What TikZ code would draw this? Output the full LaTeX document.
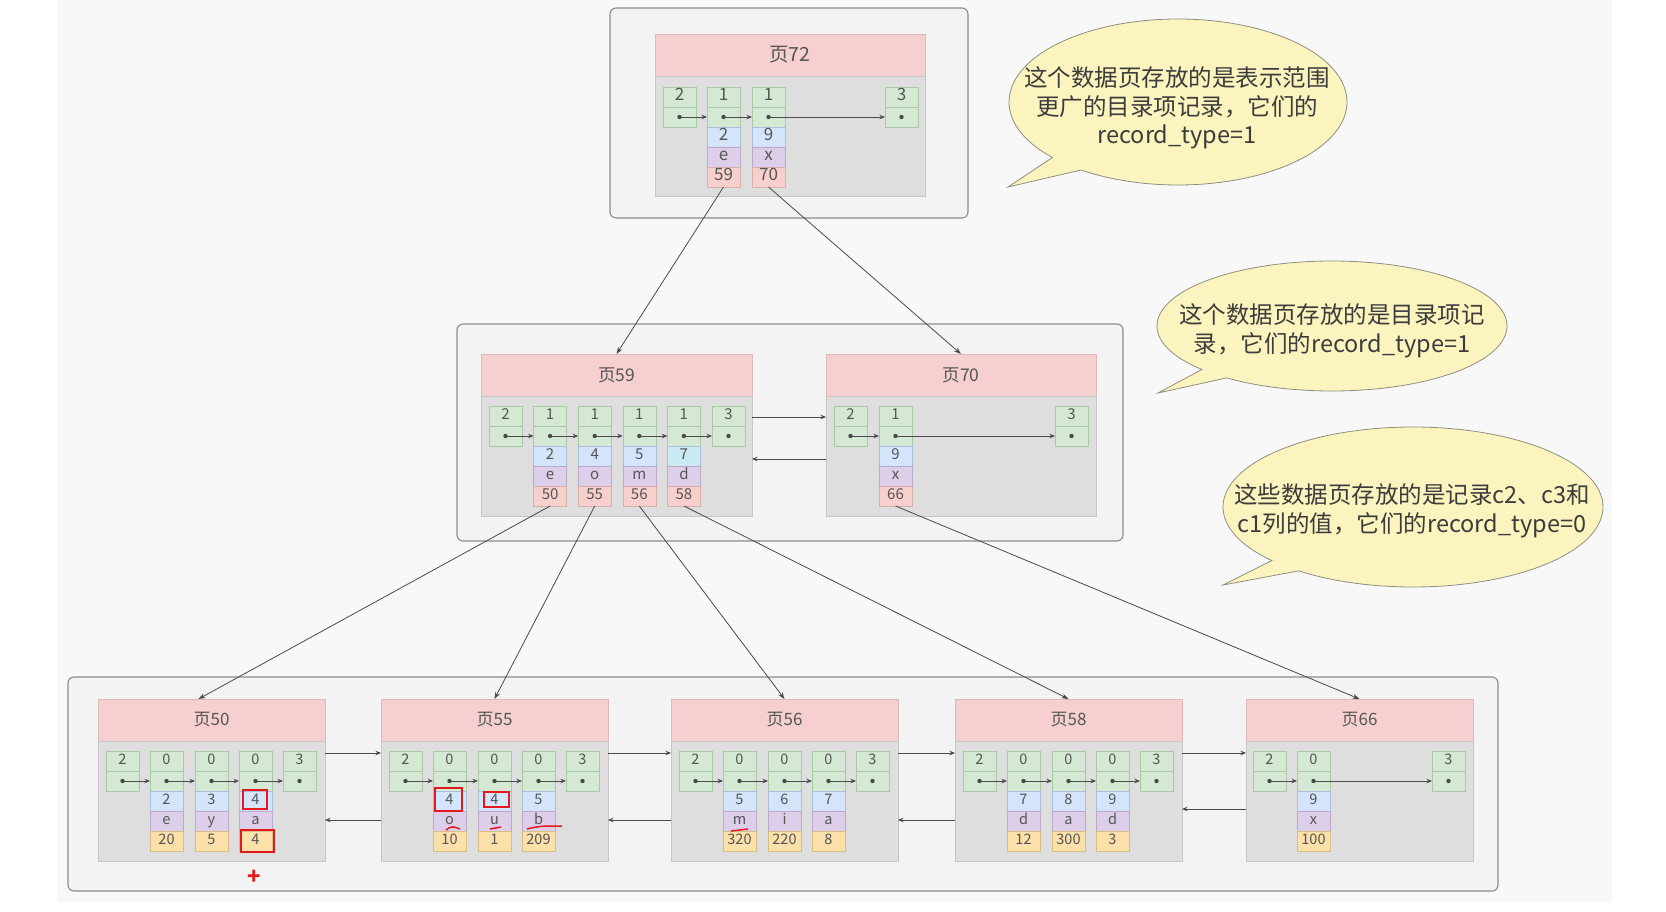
\documentclass[tikz,border=0pt]{standalone}
\usepackage{fontspec}
\setmainfont{Noto Sans CJK SC}
\usetikzlibrary{arrows.meta,calc}
\definecolor{bgc}{HTML}{F8F8F8}
\definecolor{outerf}{HTML}{F3F3F3}
\definecolor{outerd}{HTML}{8C8C8C}
\definecolor{hdrf}{HTML}{F6D0D0}
\definecolor{hdrd}{HTML}{DDB9B8}
\definecolor{bodyf}{HTML}{DEDEDE}
\definecolor{bodyd}{HTML}{C6C6C6}
\definecolor{grf}{HTML}{D5E8D4}
\definecolor{grd}{HTML}{A9C8A4}
\definecolor{blf}{HTML}{D3E4FB}
\definecolor{bld}{HTML}{A9BFDC}
\definecolor{cyf}{HTML}{C9EAF2}
\definecolor{puf}{HTML}{DDCFE9}
\definecolor{pud}{HTML}{BBA8CB}
\definecolor{pkf}{HTML}{F7CFCC}
\definecolor{pkd}{HTML}{D9AFAC}
\definecolor{orf}{HTML}{FBE0AA}
\definecolor{ord}{HTML}{D9BD87}
\definecolor{txt}{HTML}{555555}
\definecolor{btxt}{HTML}{3C3C3C}
\definecolor{lnk}{HTML}{4A4A4A}
\definecolor{bubf}{HTML}{FBF4BE}
\definecolor{bubd}{HTML}{8F8F80}
\definecolor{redm}{HTML}{E3191C}
\tikzset{
  cellbase/.style={rectangle, inner sep=0pt, outer sep=0pt, minimum width=33pt, minimum height=20pt, text=txt, text height=0.72em, text depth=0em, line width=0.6pt, anchor=north west},
  gc/.style={cellbase, fill=grf, draw=grd},
  bc/.style={cellbase, fill=blf, draw=bld},
  cc/.style={cellbase, fill=cyf, draw=bld},
  pc/.style={cellbase, fill=puf, draw=pud},
  kc/.style={cellbase, fill=pkf, draw=pkd},
  oc/.style={cellbase, fill=orf, draw=ord},
  hdr/.style={rectangle, inner sep=0pt, outer sep=0pt, minimum height=42pt, fill=hdrf, draw=hdrd, text=txt, line width=0.6pt, anchor=north west},
  bodyb/.style={rectangle, inner sep=0pt, outer sep=0pt, minimum height=120pt, fill=bodyf, draw=bodyd, line width=0.6pt, anchor=north west},
  outerbox/.style={fill=outerf, draw=outerd, line width=1.1pt, rounded corners=6pt},
  ptr/.style={draw=lnk, line width=0.8pt, -{Stealth[length=5.5pt,width=4.5pt]}},
  lnkarrow/.style={draw=lnk, line width=0.8pt, -{Stealth[length=7pt,width=5pt]}},
  redbox/.style={draw=redm, line width=1.8pt},
  redline/.style={draw=redm, line width=1.5pt},
  bubble/.style={fill=bubf, draw=bubd, line width=0.8pt},
  bubtext/.style={align=center, text=btxt, font=\fontsize{23.5}{28.5}\selectfont},
}
\newcommand\mkpage[5]{%
  \node[hdr, minimum width=#4pt] (#1) at (#2,#3) {#5};
  \node[bodyb, minimum width=#4pt] (#1body) at (#1.south west) {};
}
\newcommand\mkgrec[4]{%
  \node[gc] (#1t) at (#2,#3) {#4};
  \node[gc] (#1b) at (#1t.south west) {};
  \fill[lnk] (#1b.center) circle[radius=2.2pt];
}
\newcommand\mkxrec[6]{%
  \node[#5] (#1k) at (#1b.south west) {#2};
  \node[pc] (#1v) at (#1k.south west) {#3};
  \node[#6] (#1p) at (#1v.south west) {#4};
}
\begin{document}
\begin{tikzpicture}[x=1pt,y=-1pt]
\fill[white] (0,0) rectangle (1666,912);
\fill[bgc] (57,0) rectangle (1612,902);
\useasboundingbox (0,0) rectangle (1666,912);

% ---------- top level ----------
\draw[outerbox] (610,8) rectangle (968,218);
\begin{scope}[hdr/.append style={font=\fontsize{19.5}{19.5}\selectfont}, cellbase/.append style={font=\fontsize{17}{17}\selectfont}]
\mkpage{p72}{655}{34}{270}{页72}
\mkgrec{p72a}{663}{87}{2}
\mkgrec{p72b}{707}{87}{1}
\mkgrec{p72c}{752}{87}{1}
\mkgrec{p72d}{885}{87}{3}
\mkxrec{p72b}{2}{e}{59}{bc}{kc}
\mkxrec{p72c}{9}{x}{70}{bc}{kc}
\end{scope}
\draw[ptr] (p72ab.center) -- (p72bb.west);
\draw[ptr] (p72bb.center) -- (p72cb.west);
\draw[ptr] (p72cb.center) -- (p72db.west);

% ---------- middle level ----------
\draw[outerbox] (457,324) rectangle (1123,541);
\begin{scope}[hdr/.append style={font=\fontsize{17.5}{17.5}\selectfont}, cellbase/.append style={font=\fontsize{15}{15}\selectfont}]
\mkpage{p59}{481}{354}{271}{页59}
\mkgrec{p59a}{489}{406}{2}
\mkgrec{p59b}{533.6}{406}{1}
\mkgrec{p59c}{578.2}{406}{1}
\mkgrec{p59d}{622.8}{406}{1}
\mkgrec{p59e}{667.4}{406}{1}
\mkgrec{p59f}{712}{406}{3}
\mkxrec{p59b}{2}{e}{50}{bc}{kc}
\mkxrec{p59c}{4}{o}{55}{bc}{kc}
\mkxrec{p59d}{5}{m}{56}{bc}{kc}
\mkxrec{p59e}{7}{d}{58}{cc}{kc}
\mkpage{p70}{826}{354}{270}{页70}
\mkgrec{p70a}{834}{406}{2}
\mkgrec{p70b}{879}{406}{1}
\mkgrec{p70c}{1055}{406}{3}
\mkxrec{p70b}{9}{x}{66}{bc}{kc}
\end{scope}
\draw[ptr] (p59ab.center) -- (p59bb.west);
\draw[ptr] (p59bb.center) -- (p59cb.west);
\draw[ptr] (p59cb.center) -- (p59db.west);
\draw[ptr] (p59db.center) -- (p59eb.west);
\draw[ptr] (p59eb.center) -- (p59fb.west);
\draw[ptr] (p70ab.center) -- (p70bb.west);
\draw[ptr] (p70bb.center) -- (p70cb.west);
\draw[ptr] ($(p59body.north east)+(0,21)$) -- ($(p70body.north west)+(0,21)$);
\draw[ptr] ($(p70body.north west)+(0,63)$) -- ($(p59body.north east)+(0,63)$);

% ---------- bottom level ----------
\draw[outerbox] (68,677) rectangle (1498,891);
\begin{scope}[hdr/.append style={font=\fontsize{17}{17}\selectfont}, cellbase/.append style={font=\fontsize{14.5}{14.5}\selectfont}]
\mkpage{p50}{98}{699}{227}{页50}
\mkgrec{p50a}{106}{751}{2}
\mkgrec{p50b}{150}{751}{0}
\mkgrec{p50c}{195}{751}{0}
\mkgrec{p50d}{239}{751}{0}
\mkgrec{p50e}{283}{751}{3}
\mkxrec{p50b}{2}{e}{20}{bc}{oc}
\mkxrec{p50c}{3}{y}{5}{bc}{oc}
\mkxrec{p50d}{4}{a}{4}{bc}{oc}
\mkpage{p55}{381}{699}{227}{页55}
\mkgrec{p55a}{389}{751}{2}
\mkgrec{p55b}{433}{751}{0}
\mkgrec{p55c}{478}{751}{0}
\mkgrec{p55d}{522}{751}{0}
\mkgrec{p55e}{566}{751}{3}
\mkxrec{p55b}{4}{o}{10}{bc}{oc}
\mkxrec{p55c}{4}{u}{1}{bc}{oc}
\mkxrec{p55d}{5}{b}{209}{bc}{oc}
\mkpage{p56}{671}{699}{227}{页56}
\mkgrec{p56a}{679}{751}{2}
\mkgrec{p56b}{723}{751}{0}
\mkgrec{p56c}{768}{751}{0}
\mkgrec{p56d}{812}{751}{0}
\mkgrec{p56e}{856}{751}{3}
\mkxrec{p56b}{5}{m}{320}{bc}{oc}
\mkxrec{p56c}{6}{i}{220}{bc}{oc}
\mkxrec{p56d}{7}{a}{8}{bc}{oc}
\mkpage{p58}{955}{699}{227}{页58}
\mkgrec{p58a}{963}{751}{2}
\mkgrec{p58b}{1007}{751}{0}
\mkgrec{p58c}{1052}{751}{0}
\mkgrec{p58d}{1096}{751}{0}
\mkgrec{p58e}{1140}{751}{3}
\mkxrec{p58b}{7}{d}{12}{bc}{oc}
\mkxrec{p58c}{8}{a}{300}{bc}{oc}
\mkxrec{p58d}{9}{d}{3}{bc}{oc}
\mkpage{p66}{1246}{699}{227}{页66}
\mkgrec{p66a}{1253}{751}{2}
\mkgrec{p66b}{1297}{751}{0}
\mkgrec{p66c}{1432}{751}{3}
\mkxrec{p66b}{9}{x}{100}{bc}{oc}
\end{scope}
\foreach \p in {p50,p55,p56,p58}{
  \draw[ptr] (\p ab.center) -- (\p bb.west);
  \draw[ptr] (\p bb.center) -- (\p cb.west);
  \draw[ptr] (\p cb.center) -- (\p db.west);
  \draw[ptr] (\p db.center) -- (\p eb.west);
}
\draw[ptr] (p66ab.center) -- (p66bb.west);
\draw[ptr] (p66bb.center) -- (p66cb.west);
\foreach \a/\b/\d in {p50/p55/79,p55/p56/79,p56/p58/79,p58/p66/68}{
  \draw[ptr] ($(\a body.north east)+(0,12)$) -- ($(\b body.north west)+(0,12)$);
  \draw[ptr] ($(\b body.north west)+(0,\d)$) -- ($(\a body.north east)+(0,\d)$);
}

% ---------- links between levels ----------
\draw[lnkarrow] (p72bp.south) -- (p59.north);
\draw[lnkarrow] (p72cp.south) -- (p70.north);
\draw[lnkarrow] (p59bp.south) -- ($(p50.north)+(-13,0)$);
\draw[lnkarrow] (p59cp.south) -- (p55.north);
\draw[lnkarrow] (p59dp.south) -- (p56.north);
\draw[lnkarrow] (p59ep.south) -- (p58.north);
\draw[lnkarrow] (p70bp.south) -- (p66.north);

% ---------- red marks ----------
\draw[redbox] (243,790) rectangle (267,809);
\draw[redbox] (241,830) rectangle (274,852);
\draw[redbox] (435,788) rectangle (462,811);
\draw[redbox] (484,792) rectangle (509,807);
\draw[redline] (446,830) .. controls (452,826) .. (460,829);
\draw[redline] (490,829) -- (501,827);
\draw[redline] (527,829) .. controls (540,826) .. (562,826);
\draw[redline] (731,831) -- (748,829);
\node[text=redm, font=\fontsize{22}{22}\selectfont\bfseries] (plus) at (254,877) {+};

% ---------- callouts ----------
\path[bubble] (1178,102) ++(138:169 and 83) arc[start angle=138, end angle=485, x radius=169, y radius=83] -- (1008,187) -- cycle;
\node[bubtext] (t1) at (1177,108) {这个数据页存放的是表示范围\\更广的目录项记录，它们的\\record\_type=1};
\path[bubble] (1332,326) ++(138:175 and 65) arc[start angle=138, end angle=487, x radius=175, y radius=65] -- (1158,393) -- cycle;
\node[bubtext] (t2) at (1332,331) {这个数据页存放的是目录项记\\录，它们的record\_type=1};
\path[bubble] (1413,507) ++(138:190 and 80) arc[start angle=138, end angle=487, x radius=190, y radius=80] -- (1223,585) -- cycle;
\node[bubtext] (t3) at (1412,511) {这些数据页存放的是记录c2、c3和\\c1列的值，它们的record\_type=0};
\end{tikzpicture}
\end{document}
